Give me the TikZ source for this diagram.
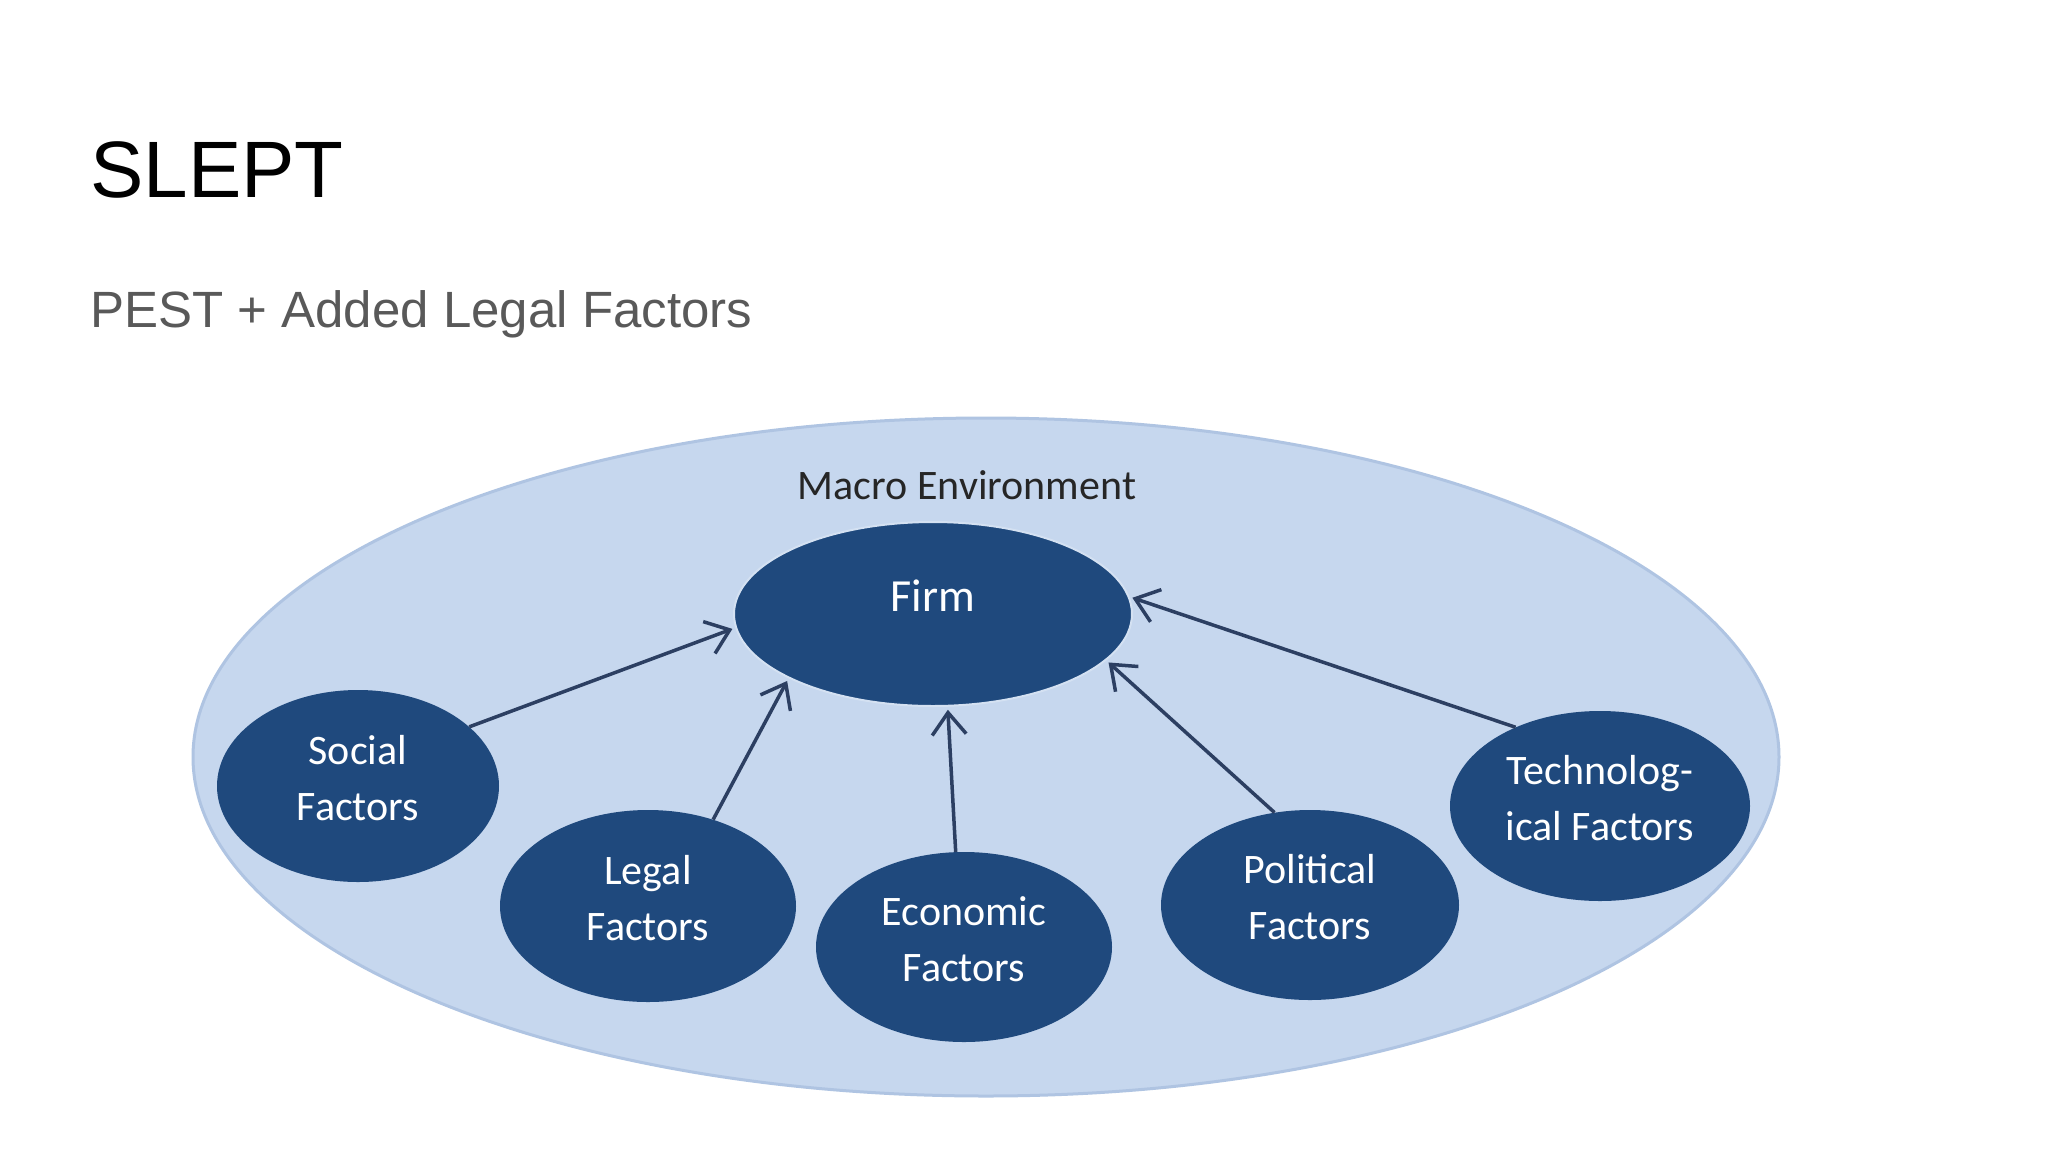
\documentclass[tikz,border=0pt]{standalone}
\usepackage{fontspec}
\setmainfont{Liberation Sans}
\newfontfamily\diagfont{Carlito}
\usetikzlibrary{shapes.geometric,arrows.meta}
\definecolor{navy}{HTML}{1F497D}
\definecolor{envfill}{HTML}{C6D7EE}
\definecolor{envline}{HTML}{AFC4E2}
\definecolor{arrowc}{HTML}{2C3F62}
\definecolor{subgray}{HTML}{595959}
\tikzset{
  factor/.style={ellipse, fill=navy, draw=none, inner sep=0pt},
  flabel/.style={text=white, align=center, font=\diagfont\fontsize{42}{56}\selectfont},
  link/.style={draw=arrowc, line width=3.5pt, shorten >=3pt, -{Straight Barb[length=22pt,width=34pt,line width=3.5pt]}}
}
\begin{document}
\begin{tikzpicture}[x=1pt,y=-1pt]
\useasboundingbox[fill=white] (0,0) rectangle (2048,1152);
% titles
\node[anchor=base west, inner sep=0pt, font=\fontsize{80}{96}\selectfont] (title) at (90,197) {SLEPT};
\node[anchor=base west, inner sep=0pt, text=subgray, font=\fontsize{51}{60}\selectfont] (subtitle) at (90,327) {PEST + Added Legal Factors};
% environment
\node[ellipse, fill=envfill, draw=envline, line width=3pt, minimum width=1586pt, minimum height=678pt, inner sep=0pt] (env) at (986,757) {};
\node[font=\diagfont\fontsize{42}{50}\selectfont, text=black!85] (envlabel) at (967,485) {Macro Environment};
% nodes
\node[factor, minimum width=398pt, minimum height=184pt, draw=envfill!75!white, line width=2pt] (firm) at (933,614) {};
\node[flabel, font=\diagfont\fontsize{46}{56}\selectfont] (firmlabel) at ([yshift=18pt]firm.center) {Firm};
\node[factor, minimum width=282pt, minimum height=192pt] (soc) at (358,786) {};
\node[flabel] (soclabel) at ([yshift=8pt]soc.center) {Social\\Factors};
\node[factor, minimum width=296pt, minimum height=192pt] (leg) at (648,906) {};
\node[flabel] (leglabel) at ([yshift=8pt]leg.center) {Legal\\Factors};
\node[factor, minimum width=296pt, minimum height=190pt] (eco) at (964,947) {};
\node[flabel] (ecolabel) at ([yshift=8pt]eco.center) {Economic\\Factors};
\node[factor, minimum width=298pt, minimum height=190pt] (pol) at (1310,905) {};
\node[flabel] (pollabel) at ([yshift=8pt]pol.center) {Political\\Factors};
\node[factor, minimum width=300pt, minimum height=190pt] (tec) at (1600,806) {};
\node[flabel] (teclabel) at ([yshift=8pt]tec.center) {Technolog-\\ical Factors};
% arrows
\draw[link] (soc.28.6) -- (firm.184);
\draw[link] (leg.53.7) -- (firm.204);
\draw[link] (eco.95.4) -- (firm.279);
\draw[link] (pol.111.7) -- (firm.345);
\draw[link] (tec.137) -- (firm.5.3);
\end{tikzpicture}
\end{document}
